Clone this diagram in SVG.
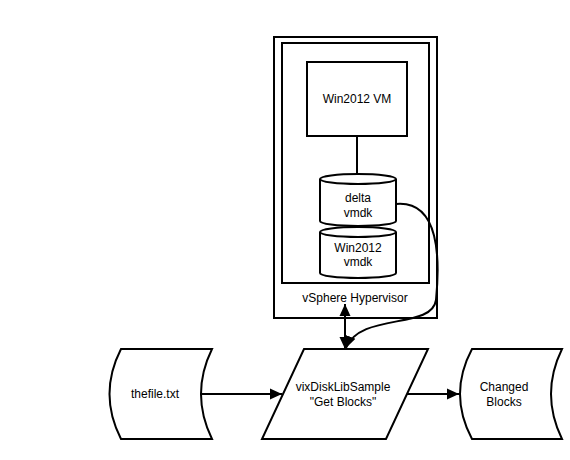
<svg xmlns="http://www.w3.org/2000/svg" width="570" height="460" viewBox="0 0 570 460">
<defs>
<style>
.s{fill:#fff;stroke:#000;stroke-width:2}
.c{fill:none;stroke:#000;stroke-width:2}
text{font-family:"Liberation Sans",Arial,sans-serif;font-size:12px;fill:#000;text-anchor:middle;dominant-baseline:central}
</style>
<marker id="ah" markerUnits="userSpaceOnUse" markerWidth="14" markerHeight="14" viewBox="0 0 14 14" refX="12" refY="7" orient="auto-start-reverse">
<path d="M0,1.5 L12,7 L0,12.5 Z" fill="#000"/>
</marker>
</defs>
<rect width="570" height="460" fill="#fff"/>
<g id="hypervisor">
<rect class="s" x="274" y="37" width="163" height="281"/>
<rect class="s" x="282" y="43" width="147" height="240"/>
<text x="355" y="298">vSphere Hypervisor</text>
</g>
<g id="vm">
<rect class="s" x="307" y="62" width="100" height="74"/>
<text x="357" y="99">Win2012 VM</text>
</g>
<g id="base-vmdk">
<path class="s" d="M320,232 A38,5 0 0 1 396,232 L396,273 A38,5 0 0 1 320,273 Z"/>
<path class="c" d="M320,232 A38,5 0 0 0 396,232"/>
<text x="358" y="248">Win2012</text>
<text x="358" y="262">vmdk</text>
</g>
<g id="delta-vmdk">
<path class="s" d="M320,179 A38,5 0 0 1 396,179 L396,221 A38,5 0 0 1 320,221 Z"/>
<path class="c" d="M320,179 A38,5 0 0 0 396,179"/>
<text x="358" y="198">delta</text>
<text x="358" y="213">vmdk</text>
</g>
<g id="thefile">
<path class="s" d="M121,349 L212,349 Q190,394 212,439 L121,439 Q98,394 121,349 Z"/>
<text x="155" y="394">thefile.txt</text>
</g>
<g id="vixdisk">
<path class="s" d="M304,349 L428,349 L386,439 L262,439 Z"/>
<text x="343" y="387">vixDiskLibSample</text>
<text x="343" y="402">"Get Blocks"</text>
</g>
<g id="changed">
<path class="s" d="M472,349 L562,349 Q540,394 562,439 L472,439 Q448,394 472,349 Z"/>
<text x="504" y="387">Changed</text>
<text x="504" y="402">Blocks</text>
</g>
<g id="connectors">
<line class="c" x1="357" y1="136" x2="357" y2="174"/>
<path class="c" d="M396,204 C440,200 440,260 436,300 C432,330 360,312 346,348" marker-end="url(#ah)"/>
<line class="c" x1="345" y1="304" x2="345" y2="349" marker-start="url(#ah)" marker-end="url(#ah)"/>
<line class="c" x1="200" y1="394" x2="282" y2="394" marker-end="url(#ah)"/>
<line class="c" x1="407" y1="394" x2="459" y2="394" marker-end="url(#ah)"/>
</g>
</svg>
